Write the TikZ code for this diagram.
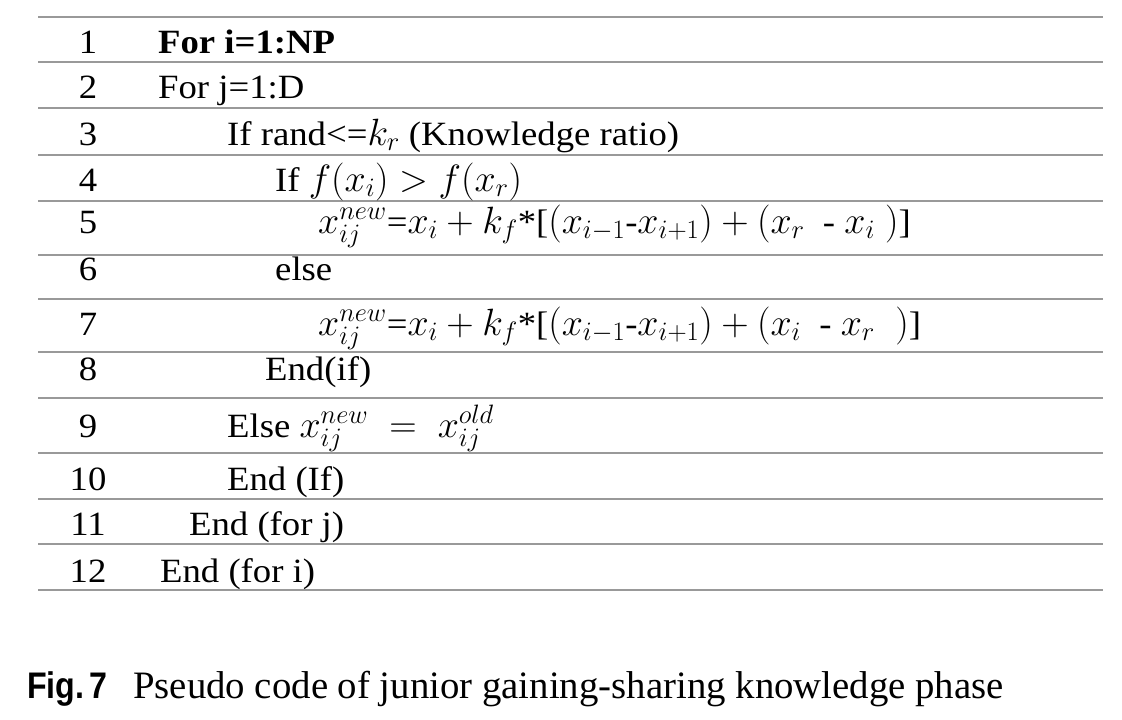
\RequirePackage{fix-cm}
\documentclass[tikz,border=0pt]{standalone}
\usepackage{fontspec}
\setmainfont{Liberation Serif}
\newfontfamily\tabfont[FakeStretch=1.08]{Liberation Serif}
\newfontfamily\capsans{Liberation Sans}
\newcommand\mm[1]{{\fontsize{38}{40}\selectfont$#1$}}
\begin{document}
\begin{tikzpicture}[x=1pt,y=-1pt,
  rule/.style={draw=black!40, line width=2.5pt},
  num/.style={anchor=base, inner sep=0pt, font=\tabfont\fontsize{34}{36}\selectfont},
  code/.style={anchor=base west, inner sep=0pt, font=\tabfont\fontsize{34}{36}\selectfont},
  captxt/.style={anchor=base west, inner sep=0pt, font=\fontsize{38.8}{42}\selectfont}]
\useasboundingbox (0,0) rectangle (1122,720);
% rules
\foreach \yy in {17,62,108,155,201,255,299,352,398,453,499,544,590}
  \draw[rule] (38,\yy) -- (1103,\yy);
% line numbers
\foreach \n/\yy in {1/53,2/98,3/145,4/191,5/233,6/280,7/335,8/380,9/437,10/490,11/535,12/582}
  \node[num] (n\n) at (88,\yy) {\n};
% code
\node[code] (c1) at (158,53) {\bfseries For i=1:NP};
\node[code] (c2) at (158,98) {For j=1:D};
\node[code] (c3) at (227,145) {If rand<=\mm{k_r} (Knowledge ratio)};
\node[code] (c4) at (275,191) {If \mm{f(x_i)>f(x_r)}};
\node[code] (c5) at (318,233) {\mm{x_{ij}^{new}}=\mm{x_i+k_f}*[\mm{(x_{i-1}}-\mm{x_{i+1})+(x_r}\ \ -\ \mm{x_i\ )}]};
\node[code] (c6) at (275,280) {else};
\node[code] (c7) at (318,335) {\mm{x_{ij}^{new}}=\mm{x_i+k_f}*[\mm{(x_{i-1}}-\mm{x_{i+1})+(x_i}\ \ -\ \mm{x_r\ \ )}]};
\node[code] (c8) at (265,380) {End(if)};
\node[code] (c9) at (227,437) {Else \mm{x_{ij}^{new}\;=\;x_{ij}^{old}}};
\node[code] (c10) at (227,490) {End (If)};
\node[code] (c11) at (189,535) {End (for j)};
\node[code] (c12) at (160,582) {End (for i)};
% caption
\node[anchor=base west, inner sep=0pt] (figlab) at (27,698)
  {\scalebox{0.87}[1]{\capsans\bfseries\fontsize{37}{40}\selectfont Fig.\,7}};
\node[captxt] (cap) at (133,698) {Pseudo code of junior gaining-sharing knowledge phase};
\end{tikzpicture}
\end{document}
